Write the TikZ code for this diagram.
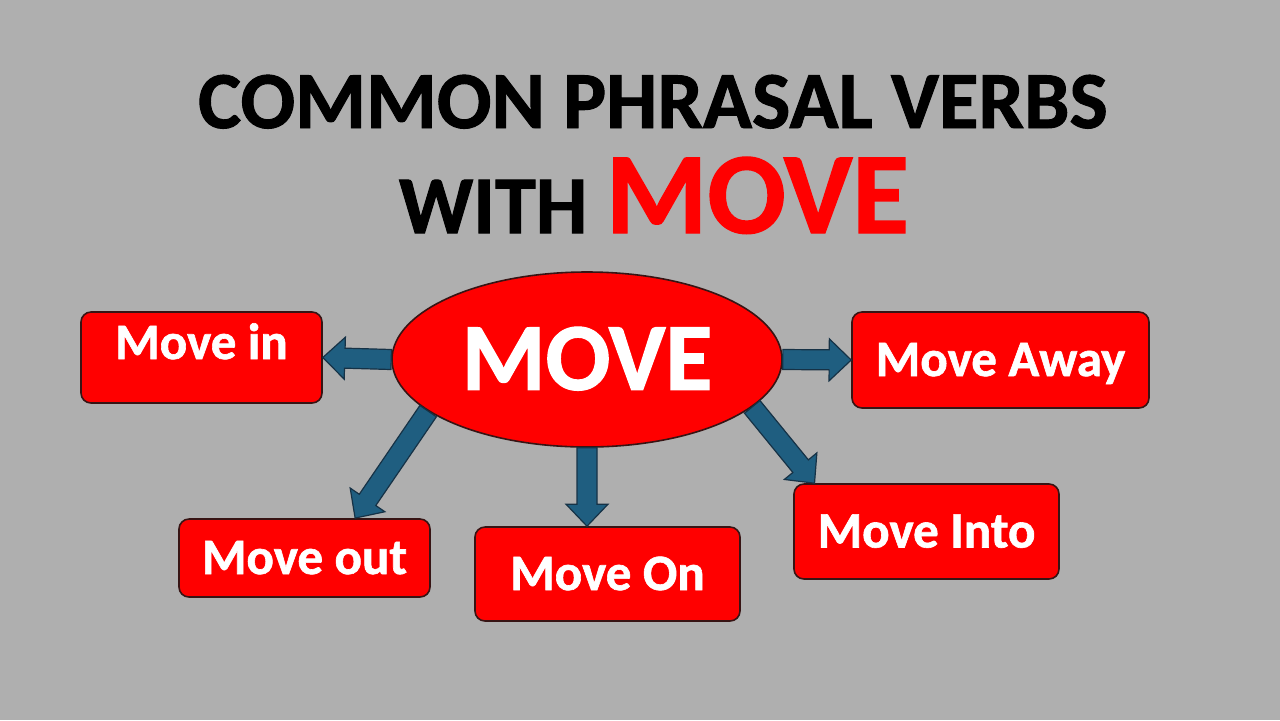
\documentclass[tikz,border=0pt]{standalone}
\usepackage{fontspec}
\setmainfont{Carlito}[BoldFeatures={FakeBold=1.2}]
\usepackage{tikz}
\usetikzlibrary{calc}
\usetikzlibrary{shapes.geometric}

\definecolor{bggray}{RGB}{175,175,175}
\definecolor{boxred}{RGB}{255,0,0}
\definecolor{arrowblue}{RGB}{31,94,128}
\definecolor{arrowedge}{RGB}{22,50,70}
\definecolor{boxedge}{RGB}{55,20,20}

\tikzset{
  verbbox/.style={draw=boxedge, line width=0.8pt, fill=boxred, rounded corners=5pt,
    inner sep=0pt, text=white, font=\fontsize{25.5}{30}\selectfont\bfseries,
    text height=16pt, text depth=0pt},
  fatarrow/.style={draw=arrowedge, line width=0.6pt, fill=arrowblue, line join=miter}
}

% block arrow from #1 to #2
\newcommand{\fatarrow}[2]{%
\draw [fatarrow] let \p1=(#1), \p2=(#2), \n1={atan2(\y2-\y1,\x2-\x1)}, \n2={veclen(\x2-\x1,\y2-\y1)} in
  [shift={(\p1)}, rotate=\n1] (0pt,-5pt) -- ({\n2*1pt-11pt},-5pt) -- ({\n2*1pt-11pt},-10.5pt)
  -- ({\n2*1pt},0pt) -- ({\n2*1pt-11pt},10.5pt) -- ({\n2*1pt-11pt},5pt) -- (0pt,5pt) -- cycle;
}

\begin{document}
\begin{tikzpicture}[x=0.5pt,y=-0.5pt]
\useasboundingbox (0,0) rectangle (1280,720);
\fill [bggray] (0,0) rectangle (1280,720);

% title
\node (title1) [anchor=base, font=\fontsize{40.5}{46}\selectfont\bfseries] at (653,128) {COMMON PHRASAL VERBS};
\node (title2) [anchor=base, font=\fontsize{41}{46}\selectfont\bfseries] at (654,233)
  {WITH {\color{boxred}\fontsize{58}{64}\selectfont MOVE}};

% centre
\node (hub) [ellipse, draw=boxedge, line width=0.8pt, fill=boxred, minimum width=195pt,
  minimum height=87.5pt, inner sep=0pt, text=white, font=\fontsize{48}{54}\selectfont\bfseries,
  text height=30.3pt, text depth=0pt] at (587,359.5) {MOVE};

% verbs
\node (in) [verbbox, minimum width=120.5pt, minimum height=45.5pt, text depth=14.5pt] at (201.5,357.5) {Move in};
\node (away) [verbbox, minimum width=148.5pt, minimum height=48pt] at (1000.5,360) {Move Away};
\node (into) [verbbox, minimum width=132.5pt, minimum height=47.5pt] at (926.5,531.5) {Move Into};
\node (out) [verbbox, minimum width=125.5pt, minimum height=39pt] at (304.5,558) {Move out};
\node (on) [verbbox, minimum width=132.5pt, minimum height=47pt] at (607.5,574) {Move On};

\coordinate (outtip) at ($(out.north west)!0.7!(out.north east)$);
\coordinate (intotip) at ($(into.north west)!0.08!(into.north east)$);

% arrows
\fatarrow{hub.west}{in.east}
\fatarrow{hub.east}{away.west}
\fatarrow{hub.south}{hub.south |- on.north}
\fatarrow{hub.-162}{outtip}
\fatarrow{hub.-16}{intotip}

\end{tikzpicture}
\end{document}
